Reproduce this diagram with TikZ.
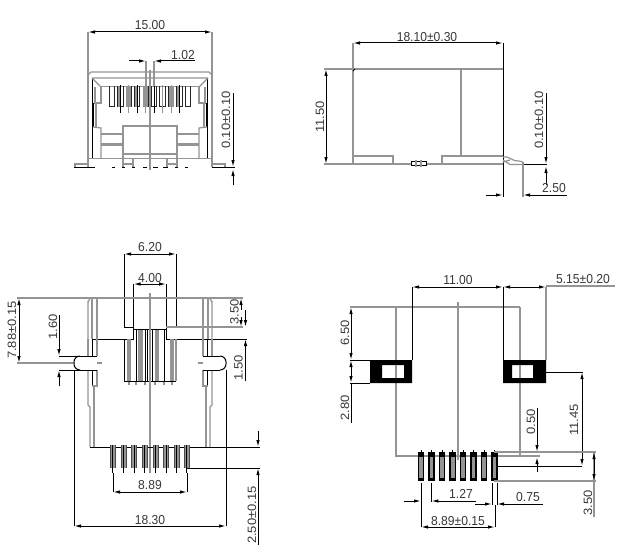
\documentclass[tikz,border=0pt]{standalone}
\usepackage{fontspec}
\setmainfont{Liberation Sans}
\usetikzlibrary{arrows.meta}
\definecolor{gl}{gray}{0.58}
\definecolor{txt}{gray}{0.22}
\tikzset{
  x=1pt,y=-1pt,
  blk/.style={line width=1pt,black},
  gry/.style={line width=1.2pt,gl},
  dim/.style={line width=1pt,black},
  ar/.style={-{Latex[length=7pt,width=3.4pt]}},
  both/.style={{Latex[length=7pt,width=3.4pt]}-{Latex[length=7pt,width=3.4pt]}},
  lab/.style={font=\fontsize{13}{13}\selectfont,text=txt,inner sep=0pt,xscale=0.93},
  vlab/.style={lab,rotate=90},
}
\begin{document}
\begin{tikzpicture}
\useasboundingbox (0,0) rectangle (637,551);
\fill[white] (0,0) rectangle (637,551);

% ---------- front view
\draw[gry] (88,32) -- (88,167) (212,32) -- (212,167);
\draw[dim,both] (88,32) -- (212,32);
\node[lab] (t1500) at (150,25) {15.00};
\draw[gry] (88,75) -- (91,72) -- (209,72) -- (212,75);
\draw[blk] (92.5,78) -- (92.5,158) (207.5,78) -- (207.5,158);
\draw[gry] (92,78) -- (208,78) (92,78) -- (101,87) (208,78) -- (199,87);
\draw[gl,line width=1.8pt] (101,86.5) -- (199,86.5);
\draw[gry] (95,87) -- (95,103) -- (101,103) -- (101,87)
  (205,87) -- (205,103) -- (199,103) -- (199,87);
\draw[gry] (96,103) -- (96,127) (204,103) -- (204,127);
\draw[blk,line width=1.8pt] (93.5,103) -- (93.5,127) (206.5,103) -- (206.5,127);
\draw[gry] (93,127) -- (101,128) -- (101,158) (207,127) -- (199,128) -- (199,158);
\draw[gry] (101,134) -- (123,134) (177,134) -- (199,134);
\draw[gl,line width=2.2pt] (101,144.5) -- (123,144.5) (177,144.5) -- (199,144.5);
\draw[gry] (123,126) rectangle (177,154);
\draw[gry] (123,154) -- (123,158) (177,154) -- (177,158);
\draw[gry] (88,158.5) -- (212,158.5);
\draw[gry] (123,158) -- (123,167) (133,158) -- (133,167) (123,164) -- (133,164)
  (177,158) -- (177,167) (167,158) -- (167,167) (167,164) -- (177,164);
\draw[blk] (88,167) -- (95,167);
\foreach \a/\b in {112/115,122/125,132/135,143/147,153/158,163/168,175/178,185/188}{
  \draw[blk] (\a,167) -- (\b,167);}
\draw[gry] (75,168) -- (75,164) -- (88,164) (212,164) -- (225,164) -- (225,168);
\draw[blk] (74,167.5) -- (88,167.5) (212,167.5) -- (235,167.5);
% contacts
\foreach \x in {111.7,120.5,128.8,137.3,145.7,154,162.5,171.2,179.5,187.8}{
  \draw[line width=0.9pt,black!85] (\x-2.6,86) -- (\x-2.6,106.7) -- (\x+2.6,106.7) -- (\x+2.6,86);}
\foreach \x in {128.8,145.7,171.2}{
  \fill[gl] (\x-2.6,86) rectangle (\x+2.6,106.7);}
\fill[gl] (118,86) rectangle (120.5,106.7);
\fill[gl] (135,86) rectangle (137.3,106.7);
\fill[gl] (177,86) rectangle (179.5,106.7);
\foreach \x in {120.5,137.3,154,179.5}{\draw[blk] (\x,85) -- (\x,113);}
\foreach \x in {128.8,145.7,162.5,171.2}{\draw[gry] (\x,85) -- (\x,113);}
\draw[gry] (146,61) -- (146,86) (154,61) -- (154,86);
\draw[gry] (150,70) -- (150,170);
\draw[dim,ar] (129,61) -- (146,61);
\draw[dim,ar] (195,61) -- (154,61);
\node[lab] (t102) at (183,55) {1.02};
\draw[dim,ar] (233,93) -- (233,167);
\draw[dim,ar] (233,185) -- (233,169);
\node[vlab] (t010a) at (226,120) {0.10±0.10};

% ---------- side view
\draw[gry] (353,43) -- (353,164);
\draw[blk] (503,43) -- (503,197);
\draw[dim,both] (353,43) -- (503,43);
\node[lab] (t1810) at (427,37) {18.10±0.30};
\draw[gry] (324,69) -- (503,69) (324,164) -- (411,164) (426,164) -- (442,164);
\draw[blk] (353,71) -- (355,69);
\draw[gry] (461,69) -- (461,156);
\draw[gry] (353,156) -- (393,156) -- (393,164) (442,164) -- (442,156) -- (503,156);
\draw[gry] (442,164) -- (503,164);
\draw[blk] (411,161) rectangle (426,165);
\draw[gry] (416,160) -- (416,167) (421,160) -- (421,167);
\draw[dim,both] (326,69) -- (326,164);
\node[vlab] (t1150) at (320,117) {11.50};
\draw[gry] (503,157) to[out=15,in=190] (519,161) -- (523,162)
  (503,162) -- (510,160) (503,160) -- (510,164.5) -- (523,164.5);
\draw[blk] (523,164.5) -- (547,164.5);
\draw[gry] (523,162) -- (523,197);
\draw[dim,ar] (546,93) -- (546,164);
\draw[dim,ar] (546,185) -- (546,166);
\node[vlab] (t010b) at (539,120) {0.10±0.10};
\draw[dim,ar] (486,195) -- (503,195);
\draw[dim,ar] (567,195) -- (523,195);
\node[lab] (t250) at (554,188) {2.50};

% ---------- bottom-left (top view)
\draw[blk] (124,254) -- (124,327) -- (133.5,327) (176,254) -- (176,327);
\draw[dim,both] (124,254) -- (176,254);
\node[lab] (t620) at (150,247) {6.20};
\draw[blk] (133.5,284) -- (133.5,339) (166,284) -- (166,339);
\draw[dim,both] (133.5,284) -- (166,284);
\node[lab] (t400) at (150,278) {4.00};
\draw[gry] (17,298) -- (243,298);
\draw[dim,both] (19,298) -- (19,363);
\node[vlab] (t788) at (12,330) {7.88±0.15};
\draw[gry] (17,363) -- (74,363) (97,363) -- (102,363);
\draw[gl,line width=1.8pt] (166,327) -- (243,327);
\draw[blk] (92,339) -- (133.5,339) (166,339) -- (247,339);
\draw[dim,ar] (59,315) -- (59,356);
\draw[dim,ar] (59,386) -- (59,370);
\node[vlab] (t160) at (53,327) {1.60};
\draw[blk] (59,356) -- (80,356) (59,370) -- (80,370);
% walls left
\draw[gry] (88,339) -- (88,302) to[out=-90,in=180] (91,298);
\draw[gry] (92,298) -- (92,339) (97,298) -- (97,356);
\draw[blk] (92.5,339) -- (92.5,356) (92.5,370) -- (92.5,386);
\draw[gry] (88,339) -- (88,356);
\draw[gry] (88,370) -- (88,405) -- (90,407) -- (90,447);
\draw[gry] (97,370) -- (97,386) -- (92,386);
\draw[gry] (94,386) -- (94,447);
\draw[blk] (78,356) -- (97,356) (78,370) -- (97,370);
\draw[blk] (80,356) to[out=180,in=90] (74,362) -- (74,364) to[out=-90,in=180] (80,370);
\draw[blk] (74,370) -- (74,526);
% walls right
\draw[gry] (212,339) -- (212,302) to[out=-90,in=0] (209,298);
\draw[gry] (208,298) -- (208,339) (203,298) -- (203,356);
\draw[blk] (207.5,339) -- (207.5,356) (207.5,370) -- (207.5,386);
\draw[gry] (212,339) -- (212,356);
\draw[gry] (212,370) -- (212,405) -- (210,407) -- (210,447);
\draw[gry] (203,370) -- (203,386) -- (208,386);
\draw[gry] (206,386) -- (206,447);
\draw[blk] (203,356) -- (220,356) (203,370) -- (220,370);
\draw[blk] (220,356) to[out=0,in=90] (226,362) -- (226,364) to[out=-90,in=0] (220,370);
\draw[blk] (226,370) -- (226,526);
\draw[gry] (198,363) -- (203,363);
% contact block
\foreach \x in {129,140.5,157,172}{\fill[gl] (\x-2.2,330) rectangle (\x+2.2,381);}
\fill[white] (124.8,330) rectangle (133,339);
\fill[white] (167,330) rectangle (175.5,339);
\draw[gry] (129,381) -- (129,385) (136,381) -- (136,385) (145,381) -- (145,385)
  (155,381) -- (155,385) (164,381) -- (164,385) (172,381) -- (172,385) (176,339) -- (176,381);
\foreach \x in {136,145,147.5,152.5,164}{\draw[blk] (\x,329) -- (\x,381);}
\draw[blk] (124.3,339) -- (124.3,381) -- (176,381);
\draw[blk] (134,329) -- (166,329);
\draw[gry] (150,293) -- (150,473);
% 3.50 and 1.50
\draw[dim,ar] (241,310) -- (241,298);
\draw[dim,ar] (241,317) -- (241,327);
\draw[dim,ar] (245.5,310) -- (245.5,327);
\node[vlab] (t350a) at (234.5,312) {3.50};
\draw[dim,ar] (245.5,381) -- (245.5,339);
\node[vlab] (t150) at (238.5,368) {1.50};
% bottom
\draw[blk] (90,447) -- (260,447);
\foreach \x in {112.7,123.3,134,144.7,155.3,166,176.3,186.7}{
  \fill[gl] (\x-2.5,445) rectangle (\x+2.5,468);
  \draw[blk] (\x,445) -- (\x,473);
  \draw[line width=0.6pt,black!70] (\x-2.5,445) -- (\x-2.5,468) (\x+2.5,445) -- (\x+2.5,468);}
\draw[blk] (187,468) -- (260,468);
\draw[blk] (113,473) -- (113,492) (187,473) -- (187,492);
\draw[dim,both] (113,492) -- (187,492);
\node[lab] (t889) at (150,485) {8.89};
\draw[dim,both] (74,526) -- (226,526);
\node[lab] (t1830) at (150,520) {18.30};
\draw[dim,ar] (258,431) -- (258,447);
\draw[dim,ar] (258,545) -- (258,468);
\node[vlab] (t250b) at (252,515) {2.50±0.15};

% ---------- bottom-right (footprint)
\draw[gry] (350,307) -- (520,307);
\draw[gry] (396,307) -- (396,456) -- (520,456) -- (520,307);
\draw[gry] (458,302) -- (458,460);
\draw[blk] (412,287) -- (412,360) (503,287) -- (503,360);
\draw[gry] (546,287) -- (546,360);
\draw[dim,both] (412,287) -- (503,287);
\node[lab] (t1100) at (458,280) {11.00};
\draw[dim,both] (503,287) -- (546,287);
\draw[gry] (546,286) -- (615,286);
\node[lab] (t515) at (583,279) {5.15±0.20};
\fill[black,even odd rule] (370,360) rectangle (412,383) (382,365) rectangle (404,378);
\fill[black,even odd rule] (503,360) rectangle (546,383) (512,365) rectangle (533,378);
\draw[gry] (396,365) -- (396,378) (520,365) -- (520,378);
\draw[blk] (350,360) -- (370,360) (350,383) -- (370,383);
\draw[dim,both] (351,307) -- (351,360);
\draw[dim,both] (351,360) -- (351,383);
\draw[blk] (351,383) -- (351,423);
\node[vlab] (t650) at (345,333) {6.50};
\node[vlab] (t280) at (345,408) {2.80};
\draw[blk] (546,372) -- (583,372);
\draw[dim,both] (582,372) -- (582,466);
\node[vlab] (t1145) at (574,420) {11.45};
\foreach \x in {421,431.3,442,452.7,463,473.3,484,494.3}{
  \fill[black] (\x-3.3,452) rectangle (\x+3.3,481);
  \fill[gl] (\x-1.8,457) rectangle (\x+1.8,478);
  \draw[blk] (\x,450) -- (\x,457);}
\draw[gry] (494,452) -- (596,452) (494,481) -- (596,481);
\draw[blk] (498,466) -- (582,466);
\draw[gry] (520,456) -- (540,456);
\draw[dim,ar] (537,408) -- (537,452);
\draw[dim,ar] (537,472) -- (537,457);
\node[vlab] (t050) at (531,422) {0.50};
\draw[gry] (594,452) -- (594,517);
\draw[dim,both] (594,452) -- (594,481);
\node[vlab] (t350b) at (588,503) {3.50};
\draw[blk] (421,483) -- (421,527) (431.3,483) -- (431.3,502);
\draw[dim,ar] (404,501) -- (421,501);
\draw[dim,ar] (476,501) -- (431.3,501);
\node[lab] (t127) at (461,494) {1.27};
\draw[blk] (492,483) -- (492,505) (497,483) -- (497,505);
\draw[dim,ar] (475,504) -- (492,504);
\draw[dim,ar] (543,504) -- (497,504);
\node[lab] (t075) at (528,497) {0.75};
\draw[blk] (495,505) -- (495,527);
\draw[dim,both] (421,527) -- (495,527);
\node[lab] (t889b) at (458,521) {8.89±0.15};
\end{tikzpicture}
\end{document}
